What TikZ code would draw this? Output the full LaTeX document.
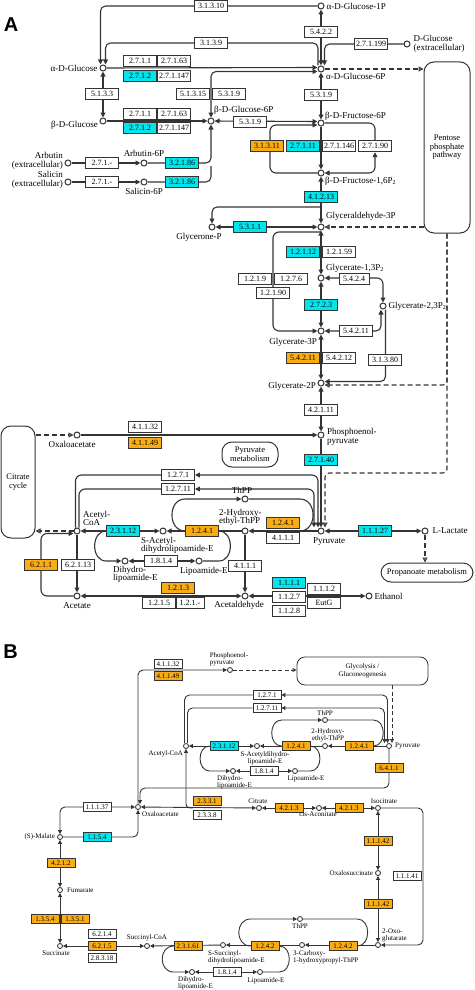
\documentclass[tikz,border=0pt]{standalone}
\usepackage{fontspec}
\setmainfont{Liberation Serif}
\setsansfont{Liberation Sans}
\usetikzlibrary{arrows.meta, backgrounds, positioning}
\definecolor{colorLinea}{RGB}{52,52,52}
\definecolor{colorCian}{RGB}{0,230,238}
\definecolor{colorNaranja}{RGB}{250,172,20}

\begin{document}
\begin{tikzpicture}
        [
        x=1pt, y=-1pt,
            compuesto/.style={
                circle,
                draw=colorLinea,
                line width=1pt,
                fill=white,
                inner sep=0pt,
                minimum size=6pt
            },
            compuestoB/.style={
                compuesto,
                line width=0.85pt,
                minimum size=5pt
            },
            enzima/.style={
                rectangle,
                draw=colorLinea,
                line width=0.9pt,
                fill=white,
                inner sep=0pt,
                minimum width=33pt,
                minimum height=11.5pt,
                font=\fontsize{8}{9}\selectfont
            },
            enzimaB/.style={
                enzima,
                line width=0.8pt,
                minimum width=28pt,
                minimum height=9.5pt,
                font=\fontsize{7}{7.5}\selectfont
            },
            cian/.style={fill=colorCian},
            naranja/.style={fill=colorNaranja},
            etiqueta/.style={
                inner sep=0pt,
                align=center,
                font=\fontsize{9}{8.5}\selectfont
            },
            etiquetaB/.style={
                inner sep=0pt,
                align=center,
                font=\fontsize{7}{7}\selectfont
            },
            mapaRuta/.style={
                rectangle,
                rounded corners=10pt,
                draw=colorLinea,
                line width=1pt,
                align=center,
                font=\fontsize{8.5}{8.5}\selectfont
            },
            mapaRutaB/.style={
                mapaRuta,
                rounded corners=8pt,
                line width=0.85pt,
                font=\fontsize{7}{8}\selectfont
            },
            letraPanel/.style={
                font=\sffamily\bfseries\fontsize{20}{20}\selectfont
            },
            linea/.style={
                draw=colorLinea,
                line width=1.1pt
            },
            flechaReaccion/.style={
                linea,
                -{Triangle[length=5pt,width=4.8pt]}
            },
            flechaDoble/.style={
                linea,
                {Triangle[length=5pt,width=4.8pt]}-{Triangle[length=5pt,width=4.8pt]}
            },
            flechaMapa/.style={
                linea,
                dash pattern=on 5pt off 3pt,
                -{Triangle[open,length=5pt,width=5pt]}
            },
            lineaB/.style={
                draw=colorLinea,
                line width=0.9pt
            },
            flechaB/.style={
                lineaB,
                -{Triangle[length=4pt,width=4pt]}
            },
            dobleB/.style={
                lineaB,
                {Triangle[length=4pt,width=4pt]}-{Triangle[length=4pt,width=4pt]}
            },
            flechaMapaB/.style={
                lineaB,
                dash pattern=on 4pt off 2.5pt,
                -{Triangle[open,length=4pt,width=4pt]}
            }
        ]
        \useasboundingbox (0,0) rectangle (474,990);

        \node(letraA) [letraPanel] at (11,25) {A};
        \node(letraB) [letraPanel] at (10.5,652) {B};

        \node(aglc) [compuesto] at (103,68) {};
        \node(bglc) [compuesto] at (103,121) {};
        \node(bglc6p) [compuesto] at (211,121) {};
        \node(arbutina) [compuesto] at (68,163) {};
        \node(arbutina6p) [compuesto] at (144,163) {};
        \node(salicina) [compuesto] at (68,182) {};
        \node(salicina6p) [compuesto] at (144,182) {};
        \node(dhap) [compuesto] at (212,227) {};
        \node(aglc1p) [compuesto] at (321,6) {};
        \node(dglc) [compuesto] at (407,44) {};
        \node(aglc6p) [compuesto] at (321,69) {};
        \node(bfru6p) [compuesto] at (321,123) {};
        \node(fru16p) [compuesto] at (321,173) {};
        \node(gap) [compuesto] at (321,227) {};
        \node(g13p) [compuesto] at (321,278) {};
        \node(g23p) [compuesto] at (383,306) {};
        \node(g3p) [compuesto] at (321,331) {};
        \node(g2p) [compuesto] at (321,383) {};
        \node(pep) [compuesto] at (321,435) {};
        \node(oaa) [compuesto] at (77,435) {};
        \node(accoa) [compuesto] at (77,531) {};
        \node(sacetil) [compuesto] at (163,531) {};
        \node(hethpp) [compuesto] at (245,531) {};
        \node(thpp) [compuesto] at (245,499) {};
        \node(piruvato) [compuesto] at (321,531) {};
        \node(lactato) [compuesto] at (425,531) {};
        \node(dihidro) [compuesto] at (125,561) {};
        \node(lipo) [compuesto] at (199,561) {};
        \node(acetato) [compuesto] at (77,596) {};
        \node(acetaldehido) [compuesto] at (245,596) {};
        \node(etanol) [compuesto] at (369,596) {};

        \node(aglcTxt) [etiqueta, left=2pt of aglc] {α-D-Glucose};
        \node(bglcTxt) [etiqueta, anchor=east] at (98,125) {β-D-Glucose};
        \node(bglc6pTxt) [etiqueta, anchor=west] at (214,110) {β-D-Glucose-6P};
        \node(arbutinaTxt) [etiqueta, align=right, anchor=east] at (63,161) {Arbutin\\(extracellular)};
        \node(arbutina6pTxt) [etiqueta, above=3pt of arbutina6p] {Arbutin-6P};
        \node(salicinaTxt) [etiqueta, align=right, anchor=east] at (63,180) {Salicin\\(extracellular)};
        \node(salicina6pTxt) [etiqueta, below=3pt of salicina6p] {Salicin-6P};
        \node(dhapTxt) [etiqueta, anchor=north] at (199,233) {Glycerone-P};
        \node(aglc1pTxt) [etiqueta, right=2pt of aglc1p] {α-D-Glucose-1P};
        \node(dglcTxt) [etiqueta, align=left, right=3pt of dglc] {D-Glucose\\(extracellular)};
        \node(aglc6pTxt) [etiqueta, anchor=west] at (326,76) {α-D-Glucose-6P};
        \node(bfru6pTxt) [etiqueta, anchor=west] at (325,116) {β-D-Fructose-6P};
        \node(fru16pTxt) [etiqueta, anchor=west] at (325,181) {β-D-Fructose-1,6P\textsubscript{2}};
        \node(gapTxt) [etiqueta, anchor=west] at (326,216) {Glyceraldehyde-3P};
        \node(g13pTxt) [etiqueta, anchor=west] at (326,268) {Glycerate-1,3P\textsubscript{2}};
        \node(g23pTxt) [etiqueta, right=2pt of g23p] {Glycerate-2,3P\textsubscript{2}};
        \node(g3pTxt) [etiqueta, anchor=east] at (317,342) {Glycerate-3P};
        \node(g2pTxt) [etiqueta, anchor=east] at (316,386) {Glycerate-2P};
        \node(pepTxt) [etiqueta, align=left, anchor=west] at (327,437) {Phosphoenol-\\pyruvate};
        \node(oaaTxt) [etiqueta, anchor=north] at (72,441) {Oxaloacetate};
        \node(accoaTxt) [etiqueta, align=left, anchor=south west] at (83,526) {Acetyl-\\CoA};
        \node(sacetilTxt) [etiqueta, align=left, anchor=north west] at (141,537) {S-Acetyl-\\dihydrolipoamide-E};
        \node(hethppTxt) [etiqueta, align=left, anchor=south west] at (219,526) {2-Hydroxy-\\ethyl-ThPP};
        \node(thppTxt) [etiqueta, anchor=south] at (242,494) {ThPP};
        \node(piruvatoTxt) [etiqueta, anchor=north] at (329,537) {Pyruvate};
        \node(lactatoTxt) [etiqueta, right=4pt of lactato] {L-Lactate};
        \node(dihidroTxt) [etiqueta, align=left, anchor=north west] at (113,566) {Dihydro-\\lipoamide-E};
        \node(lipoTxt) [etiqueta, anchor=north west] at (180,567) {Lipoamide-E};
        \node(acetatoTxt) [etiqueta, below=3pt of acetato] {Acetate};
        \node(acetaldehidoTxt) [etiqueta, anchor=north] at (239,601) {Acetaldehyde};
        \node(etanolTxt) [etiqueta, right=2pt of etanol] {Ethanol};

        \node(pentosa) [mapaRuta, minimum width=46pt, minimum height=171pt] at (447,147.5) {Pentose\\phosphate\\pathway};
        \node(citrato) [mapaRuta, minimum width=34pt, minimum height=112pt] at (18,482) {Citrate\\cycle};
        \node(pirmet) [mapaRuta, minimum width=56pt, minimum height=25pt] at (250,454.5) {Pyruvate\\metabolism};
        \node(propanoato) [mapaRuta, minimum width=92pt, minimum height=19pt] at (427,572.5) {Propanoate metabolism};

        \node(e31310) [enzima] at (211,6) {3.1.3.10};
        \node(e3139) [enzima] at (211,43) {3.1.3.9};
        \node(e2711a) [enzima] at (140,61) {2.7.1.1};
        \node(e27163a) [enzima] at (174,61) {2.7.1.63};
        \node(e2712a) [enzima, cian] at (140,76) {2.7.1.2};
        \node(e271147a) [enzima] at (174,76) {2.7.1.147};
        \node(e5133) [enzima] at (102,94) {5.1.3.3};
        \node(e51315) [enzima] at (193,94) {5.1.3.15};
        \node(e5319a) [enzima] at (229,94) {5.3.1.9};
        \node(e2711b) [enzima] at (140,114) {2.7.1.1};
        \node(e27163b) [enzima] at (174,114) {2.7.1.63};
        \node(e2712b) [enzima, cian] at (140,128) {2.7.1.2};
        \node(e271147b) [enzima] at (174,128) {2.7.1.147};
        \node(e271ar) [enzima] at (102,163) {2.7.1.-};
        \node(e32186ar) [enzima, cian] at (182,163) {3.2.1.86};
        \node(e271sa) [enzima] at (102,182) {2.7.1.-};
        \node(e32186sa) [enzima, cian] at (182,182) {3.2.1.86};
        \node(e5422) [enzima] at (321,32) {5.4.2.2};
        \node(e271199) [enzima] at (371,44) {2.7.1.199};
        \node(e5319b) [enzima] at (321,95) {5.3.1.9};
        \node(e5319c) [enzima] at (250,122) {5.3.1.9};
        \node(e31311) [enzima, naranja] at (267,146) {3.1.3.11};
        \node(e27111) [enzima, cian] at (303,146) {2.7.1.11};
        \node(e271146) [enzima] at (339,146) {2.7.1.146};
        \node(e27190) [enzima] at (375,146) {2.7.1.90};
        \node(e41213) [enzima, cian] at (321,197) {4.1.2.13};
        \node(e5311) [enzima, cian] at (250,227) {5.3.1.1};
        \node(e12112) [enzima, cian] at (303,252) {1.2.1.12};
        \node(e12159) [enzima] at (339,252) {1.2.1.59};
        \node(e1219) [enzima] at (255,279) {1.2.1.9};
        \node(e1276) [enzima] at (291,279) {1.2.7.6};
        \node(e12190) [enzima] at (273,293) {1.2.1.90};
        \node(e5424) [enzima, minimum width=30pt] at (354,279) {5.4.2.4};
        \node(e2723) [enzima, cian] at (321,305) {2.7.2.3};
        \node(e54211a) [enzima] at (356,331) {5.4.2.11};
        \node(e54211b) [enzima, naranja] at (303,358) {5.4.2.11};
        \node(e54212) [enzima] at (339,358) {5.4.2.12};
        \node(e31380) [enzima] at (385,360) {3.1.3.80};
        \node(e42111) [enzima] at (321,410) {4.2.1.11};
        \node(e27140) [enzima, cian] at (321,460) {2.7.1.40};
        \node(e41132) [enzima] at (145,427) {4.1.1.32};
        \node(e41149) [enzima, naranja] at (145,443) {4.1.1.49};
        \node(e1271) [enzima] at (178,475) {1.2.7.1};
        \node(e12711) [enzima] at (178,489) {1.2.7.11};
        \node(e23112) [enzima, cian] at (123,531) {2.3.1.12};
        \node(e1241a) [enzima, naranja] at (202,531) {1.2.4.1};
        \node(e1241b) [enzima, naranja] at (283,523) {1.2.4.1};
        \node(e4111a) [enzima] at (283,538) {4.1.1.1};
        \node(e11127) [enzima, cian] at (375,531) {1.1.1.27};
        \node(e1814) [enzima] at (161,561) {1.8.1.4};
        \node(e4111b) [enzima] at (245,566) {4.1.1.1};
        \node(e6211) [enzima, naranja] at (41,565) {6.2.1.1};
        \node(e62113) [enzima] at (78,565) {6.2.1.13};
        \node(e1213) [enzima, naranja] at (178,588) {1.2.1.3};
        \node(e1215) [enzima] at (159,603) {1.2.1.5};
        \node(e121x) [enzima, minimum width=28pt] at (190,603) {1.2.1.-};
        \node(e1111) [enzima, cian] at (289,583) {1.1.1.1};
        \node(e1127) [enzima] at (289,597) {1.1.2.7};
        \node(e1128) [enzima] at (289,611) {1.1.2.8};
        \node(e1112) [enzima] at (324,589) {1.1.1.2};
        \node(eEutG) [enzima] at (324,603) {EutG};

        \coordinate (unionSal) at (211,166);
        \coordinate (ramaAldolasa) at (321,207);
        \coordinate (ramaGAP) at (321,232);
        \coordinate (esquinaPPP) at (325,473);

        \begin{scope}[on background layer]
        \draw[flechaReaccion, rounded corners=5pt] (aglc1p) -| ([xshift=-2.5pt]aglc.north);
        \draw[flechaReaccion, rounded corners=5pt] ([xshift=-3pt]aglc6p.north) |- (e3139) -| ([xshift=2.5pt]aglc.north);
        \draw[flechaDoble] (aglc1p) -- (aglc6p);
        \draw[flechaReaccion, rounded corners=5pt] (dglc) -| ([xshift=3.5pt]aglc6p.north);
        \draw[flechaReaccion] (aglc) -- ([yshift=1.5pt]aglc6p.west);
        \draw[flechaDoble, rounded corners=5pt] (bglc6p) |- ([yshift=-2.5pt]aglc6p.west);
        \draw[flechaDoble] (aglc) -- (bglc);
        \draw[flechaReaccion] (bglc) -- (bglc6p);
        \draw[flechaReaccion] (arbutina) -- (arbutina6p);
        \draw[flechaReaccion, rounded corners=5pt] (arbutina6p) -| (bglc6p);
        \draw[flechaReaccion] (salicina) -- (salicina6p);
        \draw[linea, rounded corners=5pt] (salicina6p) -| (unionSal);
        \draw[flechaDoble] (aglc6p) -- (bfru6p);
        \draw[flechaDoble] (bglc6p) -- ([yshift=1.5pt]bfru6p.west);
        \draw[flechaReaccion, rounded corners=6pt] (fru16p) -| (270,150) |- ([yshift=-2pt]bfru6p.west);
        \draw[flechaDoble, rounded corners=6pt] (bfru6p) -| (e27190) |- (fru16p);
        \draw[flechaReaccion] (bfru6p) -- (fru16p);
        \draw[flechaDoble] (fru16p) -- (gap);
        \draw[flechaReaccion, rounded corners=5pt] (ramaAldolasa) -| (dhap);
        \draw[flechaDoble] (dhap) -- (gap);
        \draw[flechaMapa] (pentosa.west |- gap) -- (gap);
        \draw[flechaMapa] (aglc6p) -- (pentosa.west |- aglc6p);
        \draw[flechaDoble] (gap) -- (g13p);
        \draw[flechaReaccion, rounded corners=6pt] (ramaGAP) -| (e12190) |- (g3p);
        \draw[flechaDoble, rounded corners=6pt] (g13p) -| (g23p);
        \draw[flechaDoble] (g13p) -- (g3p);
        \draw[flechaDoble, rounded corners=5pt] ([xshift=-2pt]g23p.south) |- (g3p);
        \draw[flechaReaccion, rounded corners=5pt] ([xshift=2.5pt]g23p.south) |- ([yshift=1.5pt]g2p.east);
        \draw[flechaDoble] (g3p) -- (g2p);
        \draw[flechaMapa, rounded corners=4pt] (pentosa.south) |- ([yshift=-2pt]g2p.east);
        \draw[flechaMapa, rounded corners=4pt] (pentosa.south) |- (esquinaPPP) -- ([xshift=4pt]piruvato.north);
        \draw[flechaDoble] (g2p) -- (pep);
        \draw[flechaReaccion] (pep) -- (piruvato);
        \draw[flechaReaccion] (oaa) -- (pep);
        \draw[flechaMapa] (citrato.east |- oaa) -- (oaa);
        \draw[flechaDoble, rounded corners=6pt] ([xshift=-1.5pt]accoa.north) |- (e1271) -| ([xshift=-3pt]piruvato.north);
        \draw[flechaDoble, rounded corners=6pt] ([xshift=2pt]accoa.north) |- (e12711) -| ([xshift=-7pt]piruvato.north);
        \draw[flechaReaccion] (e1241a.west) to[out=180, in=180, looseness=1.4] (e1241a.west |- thpp) -- (thpp);
        \draw[linea] (thpp) -- (e1241b.east |- thpp) to[out=0, in=0, looseness=1.4] (e1241b.east |- piruvato);
        \draw[flechaReaccion] (piruvato) -- (hethpp);
        \draw[flechaReaccion] (hethpp) -- (sacetil);
        \draw[flechaDoble] (sacetil) -- (accoa);
        \draw[flechaReaccion] (e23112.west) to[out=180, in=180, looseness=1.3] (e23112.west |- dihidro) -- (dihidro);
        \draw[flechaDoble] (dihidro) -- (lipo);
        \draw[linea] (lipo) -- (e1241a.east |- lipo) to[out=0, in=0, looseness=1.3] (e1241a.east);
        \draw[flechaReaccion] (hethpp) -- (acetaldehido);
        \draw[flechaReaccion] (accoa) -- (acetato);
        \draw[flechaReaccion, rounded corners=6pt] (acetato) -| (e6211) |- ([yshift=-2.5pt]accoa.west);
        \draw[flechaMapa] (accoa) -- (citrato.east |- accoa);
        \draw[flechaDoble] (acetaldehido) -- (acetato);
        \draw[flechaDoble] (acetaldehido) -- (etanol);
        \draw[flechaDoble] (piruvato) -- (lactato);
        \draw[flechaMapa] (lactato) -- (lactato |- propanoato.north);
        \end{scope}

        \node(pepB) [compuestoB] at (230,670) {};
        \node(oaaB) [compuestoB] at (138,807) {};
        \node(accoaB) [compuestoB] at (186,746) {};
        \node(sacetilB) [compuestoB] at (257,746) {};
        \node(hethppB) [compuestoB] at (325,746) {};
        \node(thppB) [compuestoB] at (325,720) {};
        \node(piruvatoB) [compuestoB] at (389,746) {};
        \node(dihidroB) [compuestoB] at (233,771) {};
        \node(lipoB) [compuestoB] at (295,771) {};
        \node(citratoB) [compuestoB] at (259,808) {};
        \node(cisacoB) [compuestoB] at (319,808) {};
        \node(isocitB) [compuestoB] at (378,808) {};
        \node(oxalosucB) [compuestoB] at (378,873) {};
        \node(oxogluB) [compuestoB] at (378,945) {};
        \node(carboxiB) [compuestoB] at (302,945) {};
        \node(thppB2) [compuestoB] at (300,919) {};
        \node(ssuccB) [compuestoB] at (223,945) {};
        \node(lipoB2) [compuestoB] at (260,972) {};
        \node(dihidroB2) [compuestoB] at (192,972) {};
        \node(succoaB) [compuestoB] at (147,946) {};
        \node(succinatoB) [compuestoB] at (60,946) {};
        \node(fumaratoB) [compuestoB] at (60,890) {};
        \node(malatoB) [compuestoB] at (60,837) {};

        \node(pepBTxt) [etiquetaB, align=left, anchor=south] at (229,666) {Phosphoenol-\\pyruvate};
        \node(oaaBTxt) [etiquetaB, anchor=north west] at (142,811) {Oxaloacetate};
        \node(accoaBTxt) [etiquetaB, anchor=north east] at (183,750) {Acetyl-CoA};
        \node(sacetilBTxt) [etiquetaB, anchor=north] at (265,751) {S-Acetyldihydro-\\lipoamide-E};
        \node(hethppBTxt) [etiquetaB, anchor=south] at (328,742) {2-Hydroxy-\\ethyl-ThPP};
        \node(thppBTxt) [etiquetaB, anchor=south] at (325,716) {ThPP};
        \node(piruvatoBTxt) [etiquetaB, right=3pt of piruvatoB] {Pyruvate};
        \node(dihidroBTxt) [etiquetaB, align=left, anchor=north west] at (217,775) {Dihydro-\\lipoamide-E};
        \node(lipoBTxt) [etiquetaB, anchor=north] at (306,775) {Lipoamide-E};
        \node(citratoBTxt) [etiquetaB, anchor=south] at (258,804) {Citrate};
        \node(cisacoBTxt) [etiquetaB, anchor=north] at (318,812) {cis-Aconitate};
        \node(isocitBTxt) [etiquetaB, anchor=south] at (384,804) {Isocitrate};
        \node(oxalosucBTxt) [etiquetaB, left=2pt of oxalosucB] {Oxalosuccinate};
        \node(oxogluBTxt) [etiquetaB, align=left, anchor=south west] at (382,942) {2-Oxo-\\glutarate};
        \node(carboxiBTxt) [etiquetaB, align=left, anchor=north west] at (293,950) {3-Carboxy-\\1-hydroxypropyl-ThPP};
        \node(thppB2Txt) [etiquetaB, anchor=north] at (300,923) {ThPP};
        \node(ssuccBTxt) [etiquetaB, align=left, anchor=north west] at (208,950) {S-Succinyl-\\dihydrolipoamide-E};
        \node(lipoB2Txt) [etiquetaB, anchor=north] at (266,977) {Lipoamide-E};
        \node(dihidroB2Txt) [etiquetaB, align=left, anchor=north west] at (178,976) {Dihydro-\\lipoamide-E};
        \node(succoaBTxt) [etiquetaB, anchor=south] at (147,941) {Succinyl-CoA};
        \node(succinatoBTxt) [etiquetaB, anchor=north] at (56,951) {Succinate};
        \node(fumaratoBTxt) [etiquetaB, right=4pt of fumaratoB] {Fumarate};
        \node(malatoBTxt) [etiquetaB, left=2pt of malatoB] {(S)-Malate};

        \node(glucolisis) [mapaRutaB, minimum width=131pt, minimum height=28pt] at (362.5,671) {Glycolysis /\\Gluconeogenesis};

        \node(e41132B) [enzimaB] at (168,664) {4.1.1.32};
        \node(e41149B) [enzimaB, naranja] at (168,676) {4.1.1.49};
        \node(e1271B) [enzimaB] at (267,695) {1.2.7.1};
        \node(e12711B) [enzimaB] at (267,708) {1.2.7.11};
        \node(e23112B) [enzimaB, cian] at (224,746) {2.3.1.12};
        \node(e1241Bi) [enzimaB, naranja] at (296,746) {1.2.4.1};
        \node(e1241Bd) [enzimaB, naranja] at (359,746) {1.2.4.1};
        \node(e1814B) [enzimaB] at (264,771) {1.8.1.4};
        \node(e6411B) [enzimaB, naranja] at (389,768) {6.4.1.1};
        \node(e11137B) [enzimaB] at (97,807) {1.1.1.37};
        \node(e1154B) [enzimaB, cian] at (97,837) {1.1.5.4};
        \node(e2331B) [enzimaB, naranja] at (207,801) {2.3.3.1};
        \node(e2338B) [enzimaB] at (207,815) {2.3.3.8};
        \node(e4213Bi) [enzimaB, naranja] at (289,808) {4.2.1.3};
        \node(e4213Bd) [enzimaB, naranja] at (349,808) {4.2.1.3};
        \node(e11142Ba) [enzimaB, naranja] at (378,841) {1.1.1.42};
        \node(e11142Bb) [enzimaB, naranja] at (378,904) {1.1.1.42};
        \node(e11141B) [enzimaB] at (407,876) {1.1.1.41};
        \node(e1242Bd) [enzimaB, naranja] at (343,946) {1.2.4.2};
        \node(e1242Bi) [enzimaB, naranja] at (265,946) {1.2.4.2};
        \node(e23161B) [enzimaB, naranja] at (188,946) {2.3.1.61};
        \node(e1814B2) [enzimaB] at (227,972) {1.8.1.4};
        \node(e6214B) [enzimaB] at (102,934) {6.2.1.4};
        \node(e6215B) [enzimaB, naranja] at (102,946) {6.2.1.5};
        \node(e28318B) [enzimaB] at (102,958) {2.8.3.18};
        \node(e4212B) [enzimaB, naranja] at (61,863) {4.2.1.2};
        \node(e1354B) [enzimaB, naranja] at (45,919) {1.3.5.4};
        \node(e1351B) [enzimaB, naranja] at (75,919) {1.3.5.1};

        \coordinate (salidaGlucB) at (392,685);
        \coordinate (esquinaPCB) at (140,788);
        \coordinate (esquinaIDH) at (423,876);

        \begin{scope}[on background layer]
        \draw[flechaB, rounded corners=5pt] (oaaB) |- (pepB);
        \draw[flechaMapaB] (pepB) -- (glucolisis.west |- pepB);
        \draw[flechaMapaB] (salidaGlucB) -- (salidaGlucB |- piruvatoB.north);
        \draw[dobleB, rounded corners=5pt] ([xshift=-1.5pt]accoaB.north) |- (e1271B) -| ([xshift=-1.5pt]piruvatoB.north);
        \draw[dobleB, rounded corners=5pt] ([xshift=1.5pt]accoaB.north) |- (e12711B) -| ([xshift=-4.5pt]piruvatoB.north);
        \draw[flechaB] (e1241Bi.west) to[out=180, in=180, looseness=1.3] (e1241Bi.west |- thppB) -- (thppB);
        \draw[lineaB] (thppB) -- (e1241Bd.east |- thppB) to[out=0, in=0, looseness=1.3] (e1241Bd.east);
        \draw[flechaB] (piruvatoB) -- (hethppB);
        \draw[flechaB] (hethppB) -- (sacetilB);
        \draw[dobleB] (sacetilB) -- (accoaB);
        \draw[flechaB] (e23112B.west) to[out=180, in=180, looseness=1.3] (e23112B.west |- dihidroB) -- (dihidroB);
        \draw[dobleB] (dihidroB) -- (lipoB);
        \draw[lineaB] (lipoB) -- (e1241Bi.east |- lipoB) to[out=0, in=0, looseness=1.3] (e1241Bi.east);
        \draw[flechaB, rounded corners=5pt] (piruvatoB) |- (esquinaPCB) -- ([xshift=2pt]oaaB.north);
        \draw[dobleB] (citratoB) -- (oaaB);
        \draw[flechaB, rounded corners=4pt] (e2331B.west |- citratoB) -| (accoaB);
        \draw[dobleB] (citratoB) -- (cisacoB);
        \draw[dobleB] (cisacoB) -- (isocitB);
        \draw[dobleB] (isocitB) -- (oxalosucB);
        \draw[dobleB] (oxalosucB) -- (oxogluB);
        \draw[flechaB, rounded corners=5pt] (isocitB) -| (esquinaIDH) |- (oxogluB);
        \draw[flechaB] (oxogluB) -- (carboxiB);
        \draw[flechaB] (carboxiB) -- (ssuccB);
        \draw[flechaB] (ssuccB) -- (succoaB);
        \draw[flechaB] (e1242Bi.west) to[out=180, in=180, looseness=1.5] (e1242Bi.west |- thppB2) -- (thppB2);
        \draw[lineaB] (thppB2) -- (e1242Bd.east |- thppB2) to[out=0, in=0, looseness=1.3] (e1242Bd.east);
        \draw[flechaB] (e23161B.west) to[out=180, in=180, looseness=1.5] (e23161B.west |- dihidroB2) -- (dihidroB2);
        \draw[dobleB] (dihidroB2) -- (lipoB2);
        \draw[lineaB] (lipoB2) -- (e1242Bi.east |- lipoB2) to[out=0, in=0, looseness=1.3] (e1242Bi.east);
        \draw[dobleB] (succoaB) -- (succinatoB);
        \draw[dobleB] (succinatoB) -- (fumaratoB);
        \draw[dobleB] (fumaratoB) -- (malatoB);
        \draw[dobleB, rounded corners=5pt] (oaaB) -| (malatoB);
        \draw[flechaB, rounded corners=5pt] (malatoB) -| (oaaB);
        \end{scope}
    \end{tikzpicture}
\end{document}
